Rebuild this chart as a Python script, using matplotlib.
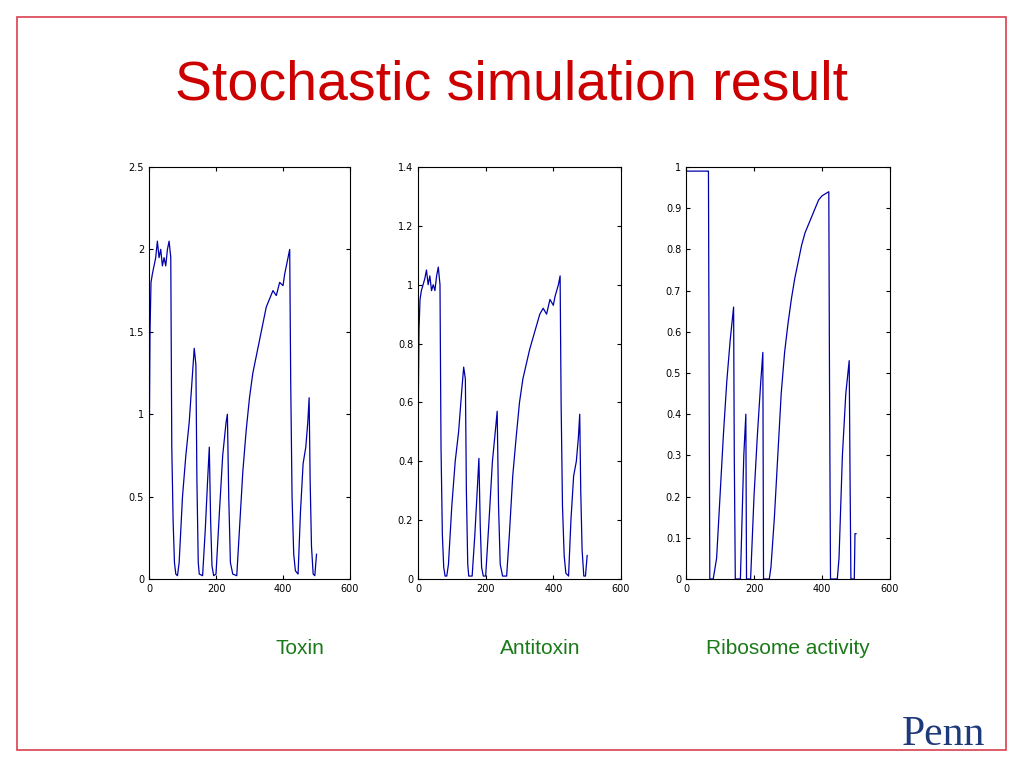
import matplotlib.pyplot as plt
from matplotlib.patches import Rectangle

# Toxin series
tox_t = [0, 3, 6, 10, 15, 20, 25, 30, 35, 40, 45, 50, 55, 60, 65, 68, 72, 76, 80, 85, 90, 95,
         100, 110, 120, 130, 135, 140, 143, 147, 150, 160, 168, 175, 180, 184, 188, 193, 200,
         210, 220, 230, 234, 238, 243, 250, 262, 270, 280, 290, 300, 310, 320, 330, 340, 350,
         360, 370, 380, 390, 400, 405, 410, 415, 420, 423, 427, 432, 437, 445, 452, 460, 468,
         474, 478, 481, 485, 490, 495, 500]
tox_v = [0.6, 1.5, 1.8, 1.85, 1.9, 1.95, 2.05, 1.95, 2.0, 1.9, 1.95, 1.9, 2.0, 2.05, 1.95, 0.8,
         0.35, 0.1, 0.03, 0.02, 0.1, 0.3, 0.5, 0.75, 0.95, 1.25, 1.4, 1.3, 0.6, 0.1, 0.03, 0.02,
         0.3, 0.6, 0.8, 0.35, 0.08, 0.02, 0.03, 0.4, 0.75, 0.95, 1.0, 0.5, 0.1, 0.03, 0.02, 0.3,
         0.65, 0.9, 1.1, 1.25, 1.35, 1.45, 1.55, 1.65, 1.7, 1.75, 1.72, 1.8, 1.78, 1.85, 1.9,
         1.95, 2.0, 1.2, 0.5, 0.15, 0.05, 0.03, 0.4, 0.7, 0.8, 0.95, 1.1, 0.6, 0.2, 0.03, 0.02, 0.15]

# Antitoxin series
anti_t = [0, 3, 6, 10, 15, 20, 25, 30, 35, 40, 45, 50, 55, 60, 65, 68, 72, 76, 80, 85, 90, 95,
          100, 110, 120, 130, 135, 140, 143, 147, 150, 160, 168, 175, 180, 184, 188, 193, 200,
          210, 220, 230, 234, 238, 243, 250, 262, 270, 280, 290, 300, 310, 320, 330, 340, 350,
          360, 370, 380, 390, 400, 405, 410, 415, 420, 423, 427, 432, 437, 445, 452, 460, 468,
          474, 478, 481, 485, 490, 495, 500]
anti_v = [0.5, 0.85, 0.95, 0.98, 1.0, 1.02, 1.05, 1.0, 1.03, 0.98, 1.0, 0.98, 1.03, 1.06, 1.0,
          0.45, 0.15, 0.04, 0.01, 0.01, 0.05, 0.15, 0.25, 0.4, 0.5, 0.65, 0.72, 0.68, 0.3, 0.05,
          0.01, 0.01, 0.15, 0.3, 0.41, 0.18, 0.04, 0.01, 0.01, 0.2, 0.4, 0.52, 0.57, 0.25, 0.05,
          0.01, 0.01, 0.15, 0.35, 0.48, 0.6, 0.68, 0.73, 0.78, 0.82, 0.86, 0.9, 0.92, 0.9, 0.95,
          0.93, 0.96, 0.98, 1.0, 1.03, 0.6, 0.25, 0.08, 0.02, 0.01, 0.2, 0.35, 0.4, 0.48, 0.56,
          0.3, 0.1, 0.01, 0.01, 0.08]

# Ribosome activity series
ribo_t = [0, 20, 40, 64, 66, 70, 75, 80, 90, 100, 110, 120, 130, 140, 142, 145, 155, 160,
          165, 170, 176, 178, 185, 190, 195, 200, 210, 220, 226, 228, 235, 245, 250, 260, 270,
          280, 290, 300, 310, 320, 330, 340, 350, 360, 370, 380, 390, 400, 410, 420, 422, 425,
          440, 445, 450, 460, 470, 480, 482, 485, 495, 497, 500]
ribo_v = [0.99, 0.99, 0.99, 0.99, 0.99, 0.0, 0.0, 0.0, 0.05, 0.2, 0.35, 0.48, 0.58, 0.66, 0.3,
          0.0, 0.0, 0.0, 0.15, 0.3, 0.4, 0.0, 0.0, 0.0, 0.1, 0.2, 0.35, 0.48, 0.55, 0.0, 0.0, 0.0,
          0.03, 0.15, 0.3, 0.45, 0.55, 0.62, 0.68, 0.73, 0.77, 0.81, 0.84, 0.86, 0.88, 0.9, 0.92,
          0.93, 0.935, 0.94, 0.5, 0.0, 0.0, 0.0, 0.05, 0.3, 0.45, 0.53, 0.3, 0.0, 0.0, 0.11, 0.11]

labels = ["Toxin", "Antitoxin", "Ribosome activity"]

fig = plt.figure(figsize=(10.24, 7.68), dpi=100)
fig.patches.append(Rectangle((17 / 1024, 1 - 750 / 768), 989 / 1024, 733 / 768,
                             transform=fig.transFigure, fill=False, edgecolor="#d9414f", lw=1.2))
fig.text(0.5, 1 - 85 / 768, "Stochastic simulation result", color="#cc0000",
         fontsize=40, ha="center", va="center", family="Liberation Sans")

specs = [
    (149, 350, tox_t, tox_v, (0, 2.5), [0, 0.5, 1, 1.5, 2, 2.5]),
    (418, 621, anti_t, anti_v, (0, 1.4), [0, 0.2, 0.4, 0.6, 0.8, 1, 1.2, 1.4]),
    (686, 890, ribo_t, ribo_v, (0, 1), [0, 0.1, 0.2, 0.3, 0.4, 0.5, 0.6, 0.7, 0.8, 0.9, 1]),
]
for x0, x1, t, v, ylim, yt in specs:
    ax = fig.add_axes([x0 / 1024, 1 - 579 / 768, (x1 - x0) / 1024, 412 / 768])
    ax.plot(t, v, color="#0000aa", lw=0.9)
    ax.set_xlim(0, 600)
    ax.set_ylim(*ylim)
    ax.set_xticks([0, 200, 400, 600])
    ax.set_yticks(yt)
    ax.set_yticklabels([f"{y:g}" for y in yt])
    ax.tick_params(labelsize=7, direction="in", top=True, right=True, length=3)

for x, lab in zip([300, 540, 788], labels):
    fig.text(x / 1024, 1 - 648 / 768, lab, color="#1a7a1a", fontsize=15,
             ha="center", va="center", family="Liberation Sans")

fig.text(985 / 1024, 1 - 735 / 768, "Penn", color="#1f3a7a", fontsize=30,
         ha="right", va="center", family="Liberation Serif")

fig.savefig("out.png")
